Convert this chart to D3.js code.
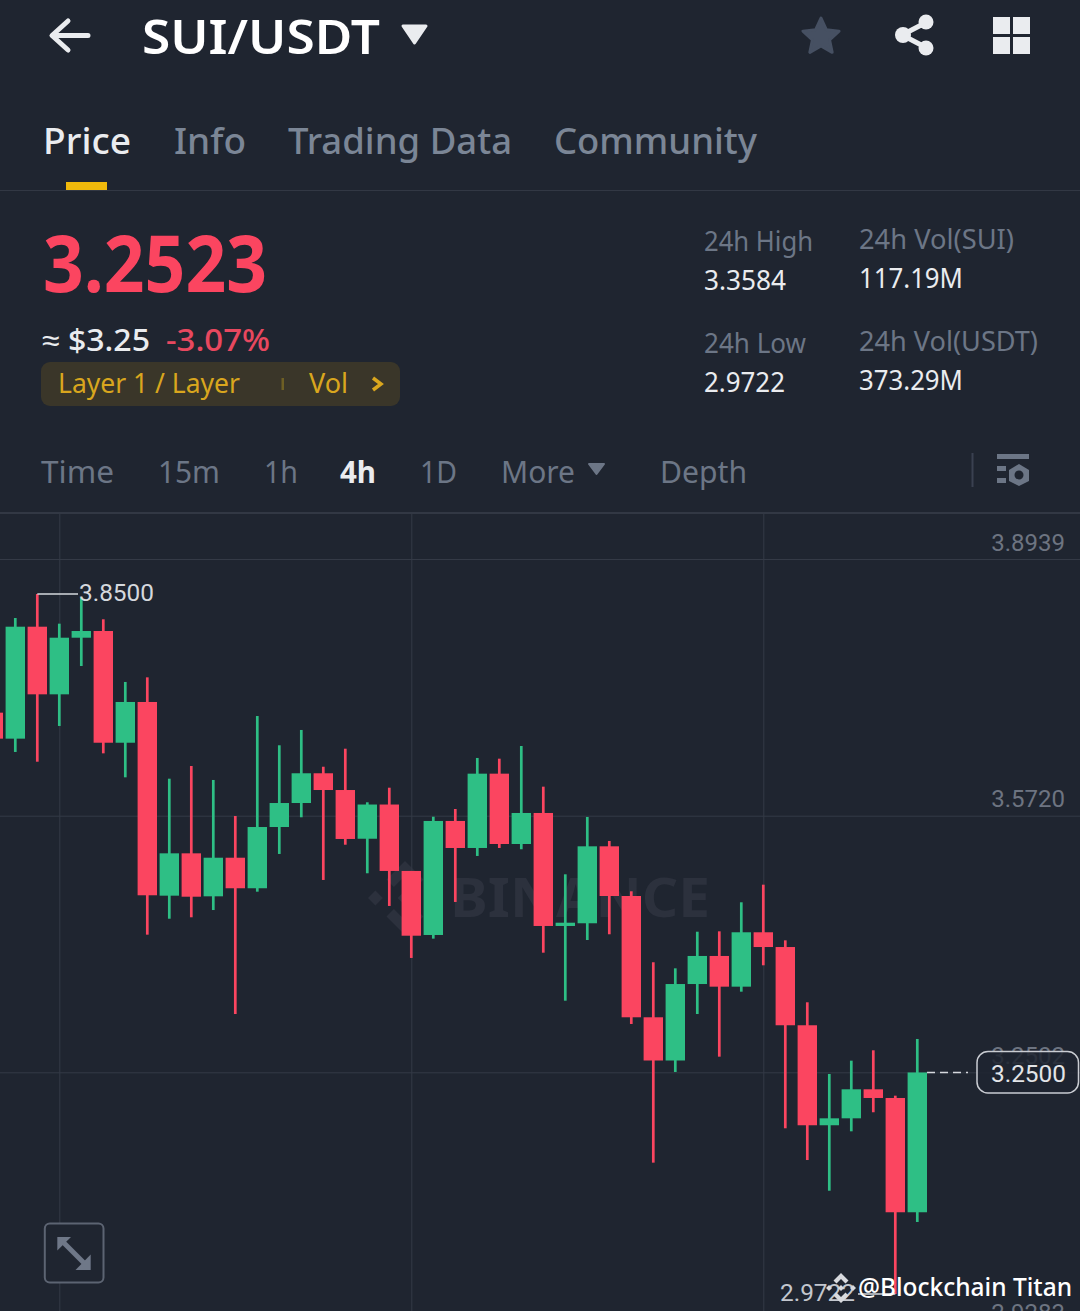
<!DOCTYPE html>
<html>
<head>
<meta charset="utf-8">
<script src="https://cdn.jsdelivr.net/npm/d3@7"></script>
<style>
  html, body { margin: 0; padding: 0; background: #1f2530; }
  svg { display: block; }
</style>
</head>
<body>
<div id="chart"></div>
<script>
//-----------------Data----------------
const candleIndex = d3.range(-1, 42);
const opens = [3.7012, 3.6686, 3.8090, 3.7242, 3.7952, 3.8036, 3.6635, 3.7146, 3.4717, 3.5248, 3.4709, 3.5193, 3.4810, 3.5578, 3.5879, 3.6252, 3.6042, 3.5431, 3.5860, 3.5027, 3.4224, 3.5654, 3.5315, 3.6247, 3.5365, 3.5754, 3.4337, 3.4371, 3.5336, 3.4713, 3.3192, 3.2650, 3.3609, 3.3961, 3.3576, 3.4258, 3.4073, 3.3092, 3.1838, 3.1925, 3.2289, 3.2180, 3.0747];
const highs = [3.7012, 3.8199, 3.8500, 3.8128, 3.8459, 3.8183, 3.7397, 3.7455, 3.6184, 3.6343, 3.6168, 3.5716, 3.6970, 3.6603, 3.6795, 3.6334, 3.6560, 3.5888, 3.6071, 3.5027, 3.5707, 3.5804, 3.6444, 3.6435, 3.6594, 3.6084, 3.4985, 3.5704, 3.5403, 3.4772, 3.3882, 3.3806, 3.4265, 3.4270, 3.4634, 3.4855, 3.4157, 3.3380, 3.2481, 3.2648, 3.2778, 3.2209, 3.2920];
const lows = [3.6686, 3.6519, 3.6397, 3.6845, 3.7597, 3.6502, 3.6201, 3.4228, 3.4428, 3.4446, 3.4537, 3.3233, 3.4767, 3.5240, 3.5700, 3.4914, 3.5356, 3.4998, 3.4588, 3.3936, 3.4178, 3.4638, 3.5215, 3.5315, 3.5299, 3.4002, 3.3400, 3.4161, 3.4233, 3.3108, 3.1369, 3.2506, 3.3233, 3.2698, 3.3513, 3.3844, 3.1800, 3.1402, 3.1017, 3.1762, 3.2001, 2.9722, 3.0625];
const closes = [3.6686, 3.8090, 3.7242, 3.7952, 3.8036, 3.6635, 3.7146, 3.4722, 3.5248, 3.4704, 3.5193, 3.4810, 3.5578, 3.5879, 3.6252, 3.6042, 3.5428, 3.5860, 3.5027, 3.4215, 3.5654, 3.5315, 3.6247, 3.5365, 3.5754, 3.4337, 3.4378, 3.5336, 3.4713, 3.3192, 3.2650, 3.3609, 3.3961, 3.3576, 3.4258, 3.4073, 3.3092, 3.1838, 3.1925, 3.2289, 3.2180, 3.0747, 3.2500];

const priceTicks = [3.8939, 3.5720, 3.2502, 2.9283];
const timeTicks = [2, 18, 34];
const highMark = { index: 1, price: 3.85 };
const lowMark = { index: 40, price: 2.9722 };
const lastPrice = 3.25;
const tabs = ["Price", "Info", "Trading Data", "Community"];
const intervals = ["Time", "15m", "1h", "4h", "1D", "More", "Depth"];

//-----------------Main svg----------------
const width = 1080;
const height = 1311;
const bg = "#1f2530";
const red = "#fb4560";
const green = "#2ebf85";
const white = "#eaecef";
const grey = "#7b8696";
const dimGrey = "#6c7686";
const gold = "#d9a61e";
const sansFont = "'Noto Sans', sans-serif";
const axisFont = "Roboto, sans-serif";

const svg = d3.select("#chart").append("svg").attr("width", width).attr("height", height).attr("viewBox", `0 0 ${width} ${height}`);
svg.append("rect").attr("width", width).attr("height", height).attr("fill", bg);

// text helper, the stretch to w is because the real app font is narrower than what we have here
function addText(parent, str, x, y, size, color, w, weight = 400, family = sansFont) {
  const t = parent.append("text").attr("x", x).attr("y", y).attr("font-size", size).attr("fill", color).attr("font-family", family).attr("font-weight", weight).text(str);
  if (w) t.attr("textLength", w).attr("lengthAdjust", "spacingAndGlyphs");
  return t;
}

function bnbLogo(parent, cx, cy, s, color) {
  const shapes = [
    [[0, -1], [0.5, -0.5], [0.3, -0.3], [0, -0.6], [-0.3, -0.3], [-0.5, -0.5]],
    [[0, 1], [0.5, 0.5], [0.3, 0.3], [0, 0.6], [-0.3, 0.3], [-0.5, 0.5]],
    [[-1, 0], [-0.8, -0.2], [-0.6, 0], [-0.8, 0.2]],
    [[1, 0], [0.8, -0.2], [0.6, 0], [0.8, 0.2]],
    [[0, -0.2], [0.2, 0], [0, 0.2], [-0.2, 0]],
  ];
  parent.append("g").attr("transform", `translate(${cx},${cy}) scale(${s})`)
    .selectAll("path").data(shapes).enter().append("path")
    .attr("d", (d) => d3.line()(d) + "Z").attr("fill", color);
}

//-----------------Header----------------
const header = svg.append("g");

header.append("path").attr("d", "M88,35.5H53M68,21L52,35.5L68,50").attr("fill", "none").attr("stroke", white).attr("stroke-width", 5).attr("stroke-linecap", "round").attr("stroke-linejoin", "round");
addText(header, "SUI/USDT", 142, 54, 47, "#ffffff", 238, 600);
header.append("path").attr("d", "M403,26H426L414.5,43Z").attr("fill", white).attr("stroke", white).attr("stroke-width", 3).attr("stroke-linejoin", "round");

header.append("path").attr("fill", "#465062").attr("stroke", "#465062").attr("stroke-width", 3).attr("stroke-linejoin", "round")
  .attr("transform", "translate(821,37)")
  .attr("d", d3.lineRadial().radius((d, i) => (i % 2 ? 9 : 19)).angle((d, i) => (i * Math.PI) / 5).curve(d3.curveLinearClosed)(d3.range(10)));

const share = header.append("g");
share.append("path").attr("d", "M927,22L902,35L927,48").attr("fill", "none").attr("stroke", white).attr("stroke-width", 5);
share.append("circle").attr("cx", 903).attr("cy", 35).attr("r", 8).attr("fill", white);
share.append("circle").attr("cx", 926).attr("cy", 22).attr("r", 7.5).attr("fill", white);
share.append("circle").attr("cx", 926).attr("cy", 48).attr("r", 7.5).attr("fill", white);

[[993, 17], [1013, 17], [993, 37], [1013, 37]].forEach(([x, y]) => {
  header.append("rect").attr("x", x).attr("y", y).attr("width", 17).attr("height", 17).attr("fill", white);
});

const tabX = [43, 174, 288, 554];
const tabW = [88, 72, 224, 203];
tabs.forEach((d, i) => addText(header, d, tabX[i], 154, 37, i === 0 ? white : grey, tabW[i], 500));
header.append("rect").attr("x", 66).attr("y", 182).attr("width", 41).attr("height", 8).attr("fill", "#f0b90b");
header.append("line").attr("x1", 0).attr("x2", width).attr("y1", 190.5).attr("y2", 190.5).attr("stroke", "#323844");

//-----------------Price block----------------
addText(header, "3.2523", 43, 292, 78, red, 224, 700);
addText(header, "≈ $3.25", 42, 351, 31, white, 108, 500);
addText(header, "-3.07%", 166, 351, 31, "#e8485f", 104, 500);

header.append("rect").attr("x", 41).attr("y", 362).attr("width", 359).attr("height", 44).attr("rx", 9).attr("fill", "#3a3629");
addText(header, "Layer 1 / Layer", 58, 393, 27, gold, 182);
header.append("rect").attr("x", 281.5).attr("y", 378).attr("width", 2.5).attr("height", 12).attr("fill", "#6e5f24");
addText(header, "Vol", 309, 393, 27, gold, 39);
header.append("path").attr("d", "M373,378L381,384L373,390").attr("fill", "none").attr("stroke", gold).attr("stroke-width", 3.5);

addText(header, "24h High", 704, 251, 28, dimGrey, 109);
addText(header, "3.3584", 704, 290, 27, white, 82);
addText(header, "24h Vol(SUI)", 859, 249, 28, dimGrey, 155);
addText(header, "117.19M", 859, 288, 27, white, 104);
addText(header, "24h Low", 704, 353, 28, dimGrey, 102);
addText(header, "2.9722", 704, 392, 27, white, 81);
addText(header, "24h Vol(USDT)", 859, 351, 28, dimGrey, 179);
addText(header, "373.29M", 859, 390, 27, white, 104);

//-----------------Interval row----------------
const intervalX = [41, 158, 264, 340, 420, 501, 660];
const intervalW = [73, 62, 34, 36, 37, 74, 87];
intervals.forEach((d, i) => addText(header, d, intervalX[i], 483, 31, d === "4h" ? white : dimGrey, intervalW[i], d === "4h" ? 700 : 400));
header.append("path").attr("d", "M589,464H604L596.5,474Z").attr("fill", dimGrey).attr("stroke", dimGrey).attr("stroke-width", 2).attr("stroke-linejoin", "round");
header.append("rect").attr("x", 971.5).attr("y", 453).attr("width", 2).attr("height", 34).attr("fill", "#3a4150");

const settings = header.append("g").attr("fill", dimGrey);
settings.append("rect").attr("x", 997).attr("y", 454).attr("width", 32).attr("height", 5);
settings.append("rect").attr("x", 997).attr("y", 466).attr("width", 9).attr("height", 5);
settings.append("rect").attr("x", 997).attr("y", 478).attr("width", 9).attr("height", 5);
settings.append("path").attr("d", "M1019,464L1029,470V481L1019,486L1009,481V470Z");
settings.append("circle").attr("cx", 1019).attr("cy", 475).attr("r", 4.5).attr("fill", bg);

svg.append("line").attr("x1", 0).attr("x2", width).attr("y1", 513).attr("y2", 513).attr("stroke", "#323844").attr("stroke-width", 2);

//-----------------Scales----------------
const x = d3.scaleLinear().domain([-1, 41]).range([-6.7, 917.3]);
const y = d3.scaleLinear().domain([3.8939, 2.9283]).range([559, 1329]);

const bodyW = 19.4;
const wickW = 2.7;

//-----------------Watermark----------------
const chart = svg.append("g");
const markColor = "#2c313d";
bnbLogo(chart, 405, 898, 37, markColor);
addText(chart, "BINANCE", 450, 917, 54, markColor, 260, 700);

//-----------------Grid and axes----------------
const gridColor = "#343a46";

const timeAxis = chart.append("g").attr("transform", "translate(0,514)")
  .call(d3.axisBottom(x).tickValues(timeTicks).tickSize(800).tickFormat(""));
timeAxis.select(".domain").remove();
timeAxis.selectAll(".tick line").attr("stroke", gridColor);

const priceAxis = chart.append("g")
  .call(d3.axisRight(y).tickValues(priceTicks).tickSize(width).tickFormat(d3.format(".4f")));
priceAxis.select(".domain").remove();
priceAxis.selectAll(".tick line").attr("stroke", gridColor);
priceAxis.selectAll(".tick text")
  .attr("x", 1065).attr("y", -9).attr("dy", 0)
  .attr("text-anchor", "end").attr("font-size", 24).attr("font-family", axisFont).attr("fill", "#6d7481");

//-----------------Candles----------------
const candles = chart.selectAll("g.candle").data(candleIndex).enter().append("g").attr("class", "candle");
const candleColor = (i, k) => (closes[k] < opens[k] ? red : green);

candles.append("rect")
  .attr("x", (d) => x(d) - wickW / 2)
  .attr("width", wickW)
  .attr("y", (d, k) => y(highs[k]))
  .attr("height", (d, k) => y(lows[k]) - y(highs[k]))
  .attr("fill", candleColor);

candles.append("rect")
  .attr("x", (d) => x(d) - bodyW / 2)
  .attr("width", bodyW)
  .attr("y", (d, k) => y(Math.max(opens[k], closes[k])))
  .attr("height", (d, k) => Math.abs(y(opens[k]) - y(closes[k])))
  .attr("fill", candleColor);

//-----------------High, low and last price labels----------------
const markLine = "#d5d8dd";
chart.append("line").attr("x1", x(highMark.index)).attr("x2", 78).attr("y1", y(highMark.price)).attr("y2", y(highMark.price)).attr("stroke", markLine).attr("stroke-width", 1.5);
addText(chart, d3.format(".4f")(highMark.price), 79, y(highMark.price) + 7, 24, markLine, 75, 400, axisFont);

chart.append("line").attr("x1", 858).attr("x2", x(lowMark.index)).attr("y1", y(lowMark.price)).attr("y2", y(lowMark.price)).attr("stroke", markLine).attr("stroke-width", 1.5);
addText(chart, d3.format(".4f")(lowMark.price), 780, y(lowMark.price) + 7, 24, "#c3c7ce", 75, 400, axisFont);

chart.append("line").attr("x1", x(41) + bodyW / 2).attr("x2", 968).attr("y1", y(lastPrice)).attr("y2", y(lastPrice))
  .attr("stroke", markLine).attr("stroke-width", 1.5).attr("stroke-dasharray", "8,5");
chart.append("rect").attr("x", 977).attr("y", 1051.5).attr("width", 101.5).attr("height", 41.5).attr("rx", 11)
  .attr("fill", bg).attr("fill-opacity", 0.85).attr("stroke", "#c9ccd2").attr("stroke-width", 1.5);
addText(chart, d3.format(".4f")(lastPrice), 991, 1082, 24, "#e3e5e8", 75, 400, axisFont);

//-----------------Expand button----------------
const expand = svg.append("g");
const expandColor = "#6f7888";
expand.append("rect").attr("x", 44.8).attr("y", 1223.5).attr("width", 58.7).attr("height", 59).attr("rx", 5).attr("fill", bg).attr("stroke", "#5c6472").attr("stroke-width", 2);
expand.append("path").attr("d", "M64,1243L84,1263").attr("stroke", expandColor).attr("stroke-width", 5);
expand.append("path").attr("d", "M57.3,1237H71L57.3,1250.5Z").attr("fill", expandColor);
expand.append("path").attr("d", "M90.7,1270H75.5L90.7,1254.5Z").attr("fill", expandColor);

//-----------------Footer watermark----------------
bnbLogo(svg, 841, 1288, 15, "#d8dade");
addText(svg, "@Blockchain Titan", 858, 1296, 26, "#ffffff", 214, 500);
</script>
</body>
</html>
